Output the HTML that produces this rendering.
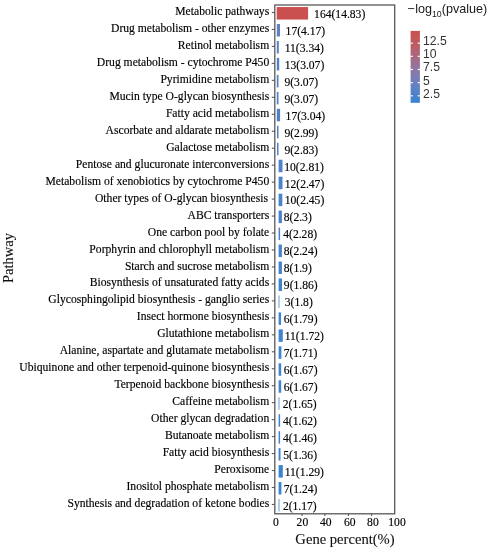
<!DOCTYPE html>
<html><head><meta charset="utf-8"><style>
html,body{margin:0;padding:0;background:#fff;}
body{width:491px;height:550px;position:relative;overflow:hidden;}
svg{position:absolute;left:0;top:0;}
.bl{position:absolute;font-family:"Liberation Serif",serif;font-size:11.6px;line-height:0;white-space:nowrap;color:#000;-webkit-text-stroke:0.15px #000;}
.yl{position:absolute;right:221.8px;font-family:"Liberation Serif",serif;font-size:11.63px;line-height:0;white-space:nowrap;color:#000;-webkit-text-stroke:0.15px #000;text-align:right;}
.xl{position:absolute;top:523.47px;width:60px;text-align:center;font-family:"Liberation Serif",serif;font-size:11.6px;line-height:0;color:#000;-webkit-text-stroke:0.15px #000;}
.xtitle{position:absolute;left:245px;width:200px;text-align:center;top:539.38px;font-family:"Liberation Serif",serif;font-size:14.6px;line-height:0;color:#111;-webkit-text-stroke:0.1px #111;}
.ytitle{position:absolute;left:7.62px;top:282.5px;font-family:"Liberation Serif",serif;font-size:14.5px;line-height:0;color:#111;-webkit-text-stroke:0.1px #111;transform:rotate(-90deg);transform-origin:0 0;white-space:nowrap;}
.ll{position:absolute;left:423px;font-family:"Liberation Sans",sans-serif;font-size:12.2px;line-height:0;color:#333;}
.lti{position:absolute;left:407.8px;top:8.69px;font-family:"Liberation Sans",sans-serif;font-size:12.6px;line-height:0;color:#1a1a1a;white-space:nowrap;}
.lti sub{font-size:8.8px;vertical-align:0;position:relative;top:3.9px;}
.mn{margin-left:-0.45px;margin-right:0.45px;}
</style></head><body>
<svg width="491" height="550" viewBox="0 0 491 550">
<defs><linearGradient id="g" x1="0" y1="0" x2="0" y2="1"><stop offset="0.0000" stop-color="#C9504E"/><stop offset="0.0357" stop-color="#C75252"/><stop offset="0.0714" stop-color="#C55456"/><stop offset="0.1071" stop-color="#C3565B"/><stop offset="0.1429" stop-color="#C1585F"/><stop offset="0.1786" stop-color="#BE5B63"/><stop offset="0.2143" stop-color="#BA5D69"/><stop offset="0.2500" stop-color="#B6606F"/><stop offset="0.2857" stop-color="#B26374"/><stop offset="0.3214" stop-color="#AE667A"/><stop offset="0.3571" stop-color="#A96880"/><stop offset="0.3929" stop-color="#A46B87"/><stop offset="0.4286" stop-color="#9F6F8E"/><stop offset="0.4643" stop-color="#997295"/><stop offset="0.5000" stop-color="#94759D"/><stop offset="0.5357" stop-color="#8E78A4"/><stop offset="0.5714" stop-color="#887AA9"/><stop offset="0.6071" stop-color="#817BAE"/><stop offset="0.6429" stop-color="#7A7DB3"/><stop offset="0.6786" stop-color="#747EB8"/><stop offset="0.7143" stop-color="#6D80BD"/><stop offset="0.7500" stop-color="#6680C0"/><stop offset="0.7857" stop-color="#6081C3"/><stop offset="0.8214" stop-color="#5982C5"/><stop offset="0.8571" stop-color="#5282C8"/><stop offset="0.8929" stop-color="#4C83CA"/><stop offset="0.9286" stop-color="#4583CD"/><stop offset="0.9643" stop-color="#3E84CF"/><stop offset="1.0000" stop-color="#3784D1"/></linearGradient></defs>
<rect x="274.8" y="5.0" width="119.90" height="508.80" fill="none" stroke="#585858" stroke-width="1.3"/>
<rect x="276.70" y="7.05" width="31.40" height="12.5" fill="#C9504E"/>
<line x1="271.8" y1="12.50" x2="274.80" y2="12.50" stroke="#585858" stroke-width="1.1"/>
<rect x="276.80" y="24.01" width="3.20" height="12.5" fill="#6181C2"/>
<line x1="271.8" y1="29.46" x2="274.80" y2="29.46" stroke="#585858" stroke-width="1.1"/>
<rect x="276.80" y="40.98" width="2.00" height="12.5" fill="#5582C7"/>
<line x1="271.8" y1="46.43" x2="274.80" y2="46.43" stroke="#585858" stroke-width="1.1"/>
<rect x="276.80" y="57.94" width="2.40" height="12.5" fill="#5282C8"/>
<line x1="271.8" y1="63.39" x2="274.80" y2="63.39" stroke="#585858" stroke-width="1.1"/>
<rect x="276.80" y="74.91" width="1.70" height="12.5" fill="#5282C8"/>
<line x1="271.8" y1="80.36" x2="274.80" y2="80.36" stroke="#585858" stroke-width="1.1"/>
<rect x="276.80" y="91.87" width="1.70" height="12.5" fill="#5282C8"/>
<line x1="271.8" y1="97.32" x2="274.80" y2="97.32" stroke="#585858" stroke-width="1.1"/>
<rect x="276.80" y="108.83" width="3.30" height="12.5" fill="#5182C8"/>
<line x1="271.8" y1="114.28" x2="274.80" y2="114.28" stroke="#585858" stroke-width="1.1"/>
<rect x="277.00" y="125.80" width="1.50" height="12.5" fill="#5182C8"/>
<line x1="271.8" y1="131.25" x2="274.80" y2="131.25" stroke="#585858" stroke-width="1.1"/>
<rect x="277.00" y="142.76" width="1.50" height="12.5" fill="#4E83C9"/>
<line x1="271.8" y1="148.21" x2="274.80" y2="148.21" stroke="#585858" stroke-width="1.1"/>
<rect x="278.60" y="159.73" width="3.90" height="12.5" fill="#4E83C9"/>
<line x1="271.8" y1="165.18" x2="274.80" y2="165.18" stroke="#585858" stroke-width="1.1"/>
<rect x="278.60" y="176.69" width="3.90" height="12.5" fill="#4A83CB"/>
<line x1="271.8" y1="182.14" x2="274.80" y2="182.14" stroke="#585858" stroke-width="1.1"/>
<rect x="278.60" y="193.65" width="3.70" height="12.5" fill="#4983CB"/>
<line x1="271.8" y1="199.10" x2="274.80" y2="199.10" stroke="#585858" stroke-width="1.1"/>
<rect x="278.60" y="210.62" width="3.30" height="12.5" fill="#4783CC"/>
<line x1="271.8" y1="216.07" x2="274.80" y2="216.07" stroke="#585858" stroke-width="1.1"/>
<rect x="278.60" y="227.58" width="1.50" height="12.5" fill="#4783CC"/>
<line x1="271.8" y1="233.03" x2="274.80" y2="233.03" stroke="#585858" stroke-width="1.1"/>
<rect x="278.60" y="244.55" width="3.30" height="12.5" fill="#4683CC"/>
<line x1="271.8" y1="250.00" x2="274.80" y2="250.00" stroke="#585858" stroke-width="1.1"/>
<rect x="278.60" y="261.51" width="3.30" height="12.5" fill="#4183CE"/>
<line x1="271.8" y1="266.96" x2="274.80" y2="266.96" stroke="#585858" stroke-width="1.1"/>
<rect x="278.60" y="278.47" width="3.40" height="12.5" fill="#4183CE"/>
<line x1="271.8" y1="283.92" x2="274.80" y2="283.92" stroke="#585858" stroke-width="1.1"/>
<rect x="278.60" y="295.44" width="0.80" height="12.5" fill="#4084CE"/>
<line x1="271.8" y1="300.89" x2="274.80" y2="300.89" stroke="#585858" stroke-width="1.1"/>
<rect x="278.60" y="312.40" width="2.40" height="12.5" fill="#4084CE"/>
<line x1="271.8" y1="317.85" x2="274.80" y2="317.85" stroke="#585858" stroke-width="1.1"/>
<rect x="278.60" y="329.37" width="4.20" height="12.5" fill="#3F84CF"/>
<line x1="271.8" y1="334.82" x2="274.80" y2="334.82" stroke="#585858" stroke-width="1.1"/>
<rect x="278.60" y="346.33" width="2.80" height="12.5" fill="#3F84CF"/>
<line x1="271.8" y1="351.78" x2="274.80" y2="351.78" stroke="#585858" stroke-width="1.1"/>
<rect x="278.60" y="363.29" width="2.60" height="12.5" fill="#3E84CF"/>
<line x1="271.8" y1="368.74" x2="274.80" y2="368.74" stroke="#585858" stroke-width="1.1"/>
<rect x="278.60" y="380.26" width="2.60" height="12.5" fill="#3E84CF"/>
<line x1="271.8" y1="385.71" x2="274.80" y2="385.71" stroke="#585858" stroke-width="1.1"/>
<rect x="278.60" y="397.22" width="0.80" height="12.5" fill="#3E84CF"/>
<line x1="271.8" y1="402.67" x2="274.80" y2="402.67" stroke="#585858" stroke-width="1.1"/>
<rect x="278.60" y="414.19" width="1.50" height="12.5" fill="#3D84CF"/>
<line x1="271.8" y1="419.64" x2="274.80" y2="419.64" stroke="#585858" stroke-width="1.1"/>
<rect x="278.60" y="431.15" width="1.50" height="12.5" fill="#3B84D0"/>
<line x1="271.8" y1="436.60" x2="274.80" y2="436.60" stroke="#585858" stroke-width="1.1"/>
<rect x="278.60" y="448.11" width="1.90" height="12.5" fill="#3A84D0"/>
<line x1="271.8" y1="453.56" x2="274.80" y2="453.56" stroke="#585858" stroke-width="1.1"/>
<rect x="278.60" y="465.08" width="4.20" height="12.5" fill="#3984D0"/>
<line x1="271.8" y1="470.53" x2="274.80" y2="470.53" stroke="#585858" stroke-width="1.1"/>
<rect x="278.60" y="482.04" width="2.80" height="12.5" fill="#3884D1"/>
<line x1="271.8" y1="487.49" x2="274.80" y2="487.49" stroke="#585858" stroke-width="1.1"/>
<rect x="278.60" y="499.01" width="0.80" height="12.5" fill="#3784D1"/>
<line x1="271.8" y1="504.46" x2="274.80" y2="504.46" stroke="#585858" stroke-width="1.1"/>
<line x1="302.0" y1="513.80" x2="302.0" y2="516" stroke="#585858" stroke-width="1.1"/>
<line x1="324.9" y1="513.80" x2="324.9" y2="516" stroke="#585858" stroke-width="1.1"/>
<line x1="348.4" y1="513.80" x2="348.4" y2="516" stroke="#585858" stroke-width="1.1"/>
<line x1="371.6" y1="513.80" x2="371.6" y2="516" stroke="#585858" stroke-width="1.1"/>
<rect x="410.6" y="30.9" width="9.3" height="71.90" fill="url(#g)"/>
<line x1="410.6" y1="95.80" x2="412.80" y2="95.80" stroke="#fff" stroke-width="1.2"/>
<line x1="417.70" y1="95.80" x2="419.90" y2="95.80" stroke="#fff" stroke-width="1.2"/>
<line x1="410.6" y1="82.64" x2="412.80" y2="82.64" stroke="#fff" stroke-width="1.2"/>
<line x1="417.70" y1="82.64" x2="419.90" y2="82.64" stroke="#fff" stroke-width="1.2"/>
<line x1="410.6" y1="69.48" x2="412.80" y2="69.48" stroke="#fff" stroke-width="1.2"/>
<line x1="417.70" y1="69.48" x2="419.90" y2="69.48" stroke="#fff" stroke-width="1.2"/>
<line x1="410.6" y1="56.32" x2="412.80" y2="56.32" stroke="#fff" stroke-width="1.2"/>
<line x1="417.70" y1="56.32" x2="419.90" y2="56.32" stroke="#fff" stroke-width="1.2"/>
<line x1="410.6" y1="43.16" x2="412.80" y2="43.16" stroke="#fff" stroke-width="1.2"/>
<line x1="417.70" y1="43.16" x2="419.90" y2="43.16" stroke="#fff" stroke-width="1.2"/>
</svg>
<div class="bl" style="left:314.08px;top:15px">164(14.83)</div>
<div class="yl" style="top:12.06px">Metabolic pathways</div>
<div class="bl" style="left:285.58px;top:32px">17(4.17)</div>
<div class="yl" style="top:29.03px">Drug metabolism - other enzymes</div>
<div class="bl" style="left:284.68px;top:49px">11(3.34)</div>
<div class="yl" style="top:45.99px">Retinol metabolism</div>
<div class="bl" style="left:284.68px;top:66px">13(3.07)</div>
<div class="yl" style="top:62.95px">Drug metabolism - cytochrome P450</div>
<div class="bl" style="left:284.43px;top:83px">9(3.07)</div>
<div class="yl" style="top:79.92px">Pyrimidine metabolism</div>
<div class="bl" style="left:284.43px;top:100px">9(3.07)</div>
<div class="yl" style="top:96.88px">Mucin type O-glycan biosynthesis</div>
<div class="bl" style="left:285.58px;top:117px">17(3.04)</div>
<div class="yl" style="top:113.85px">Fatty acid metabolism</div>
<div class="bl" style="left:284.43px;top:134px">9(2.99)</div>
<div class="yl" style="top:130.81px">Ascorbate and aldarate metabolism</div>
<div class="bl" style="left:284.43px;top:151px">9(2.83)</div>
<div class="yl" style="top:147.77px">Galactose metabolism</div>
<div class="bl" style="left:284.28px;top:168px">10(2.81)</div>
<div class="yl" style="top:164.74px">Pentose and glucuronate interconversions</div>
<div class="bl" style="left:284.68px;top:185px">12(2.47)</div>
<div class="yl" style="top:181.70px">Metabolism of xenobiotics by cytochrome P450</div>
<div class="bl" style="left:284.68px;top:201px">10(2.45)</div>
<div class="yl" style="top:198.67px;margin-right:1.2px">Other types of O-glycan biosynthesis</div>
<div class="bl" style="left:283.76px;top:218px">8(2.3)</div>
<div class="yl" style="top:215.63px">ABC transporters</div>
<div class="bl" style="left:283.27px;top:235px">4(2.28)</div>
<div class="yl" style="top:232.59px">One carbon pool by folate</div>
<div class="bl" style="left:283.76px;top:252px">8(2.24)</div>
<div class="yl" style="top:249.56px">Porphyrin and chlorophyll metabolism</div>
<div class="bl" style="left:283.76px;top:269px">8(1.9)</div>
<div class="yl" style="top:266.52px">Starch and sucrose metabolism</div>
<div class="bl" style="left:283.83px;top:286px">9(1.86)</div>
<div class="yl" style="top:283.49px">Biosynthesis of unsaturated fatty acids</div>
<div class="bl" style="left:284.74px;top:303px">3(1.8)</div>
<div class="yl" style="top:300.45px">Glycosphingolipid biosynthesis - ganglio series</div>
<div class="bl" style="left:283.70px;top:320px">6(1.79)</div>
<div class="yl" style="top:317.41px">Insect hormone biosynthesis</div>
<div class="bl" style="left:284.68px;top:337px">11(1.72)</div>
<div class="yl" style="top:334.38px">Glutathione metabolism</div>
<div class="bl" style="left:283.63px;top:354px">7(1.71)</div>
<div class="yl" style="top:351.34px">Alanine, aspartate and glutamate metabolism</div>
<div class="bl" style="left:283.70px;top:371px">6(1.67)</div>
<div class="yl" style="top:368.31px">Ubiquinone and other terpenoid-quinone biosynthesis</div>
<div class="bl" style="left:283.70px;top:388px">6(1.67)</div>
<div class="yl" style="top:385.27px">Terpenoid backbone biosynthesis</div>
<div class="bl" style="left:282.79px;top:405px">2(1.65)</div>
<div class="yl" style="top:402.23px">Caffeine metabolism</div>
<div class="bl" style="left:283.07px;top:422px">4(1.62)</div>
<div class="yl" style="top:419.20px">Other glycan degradation</div>
<div class="bl" style="left:283.07px;top:439px">4(1.46)</div>
<div class="yl" style="top:436.16px">Butanoate metabolism</div>
<div class="bl" style="left:283.23px;top:456px">5(1.36)</div>
<div class="yl" style="top:453.13px">Fatty acid biosynthesis</div>
<div class="bl" style="left:284.68px;top:473px">11(1.29)</div>
<div class="yl" style="top:470.09px">Peroxisome</div>
<div class="bl" style="left:283.63px;top:490px">7(1.24)</div>
<div class="yl" style="top:487.05px">Inositol phosphate metabolism</div>
<div class="bl" style="left:282.89px;top:507px">2(1.17)</div>
<div class="yl" style="top:504.02px">Synthesis and degradation of ketone bodies</div>
<div class="xl" style="left:245.90px">0</div>
<div class="xl" style="left:272.40px">20</div>
<div class="xl" style="left:295.70px">40</div>
<div class="xl" style="left:319.80px">60</div>
<div class="xl" style="left:342.90px">80</div>
<div class="xl" style="left:367.00px">100</div>
<div class="ll" style="top:93.66px">2.5</div>
<div class="ll" style="top:80.51px">5</div>
<div class="ll" style="top:67.35px">7.5</div>
<div class="ll" style="top:54.19px">10</div>
<div class="ll" style="top:41.03px">12.5</div>
<div class="xtitle">Gene percent(%)</div>
<div class="ytitle">Pathway</div>
<div class="lti"><span class="mn">−</span>log<sub>10</sub>(pvalue)</div>
</body></html>
